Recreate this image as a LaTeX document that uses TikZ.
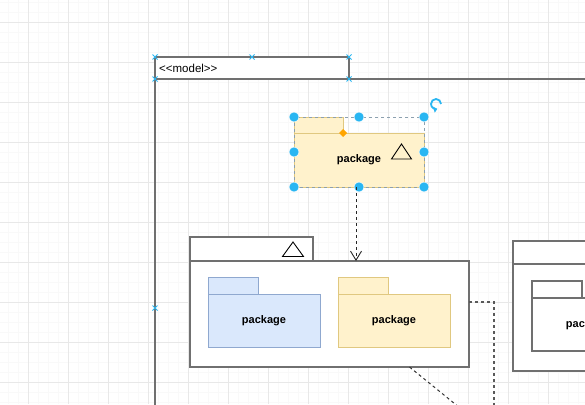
\documentclass[tikz,border=0pt]{standalone}
\usepackage{fontspec}
\setmainfont{Liberation Sans}
\usetikzlibrary{arrows.meta}
\definecolor{gridmaj}{RGB}{232,232,232}
\definecolor{gridmin}{RGB}{249,249,249}
\definecolor{framec}{RGB}{112,112,112}
\definecolor{yfill}{HTML}{FFF2CC}
\definecolor{ystroke}{HTML}{E0C880}
\definecolor{bfill}{HTML}{DAE8FC}
\definecolor{bstroke}{HTML}{8FA8CF}
\definecolor{handlec}{RGB}{41,182,242}
\definecolor{orangeh}{HTML}{FFA500}
\definecolor{selc}{RGB}{140,160,175}
\begin{document}
\begin{tikzpicture}[x=1pt,y=-1pt,
  box/.style={draw=framec, line width=1.5pt, fill=white, anchor=north west, inner sep=0pt, outer sep=0pt},
  pkg/.style={anchor=north west, inner sep=0pt, outer sep=0pt, line width=1pt},
  yellowpkg/.style={pkg, fill=yfill, draw=ystroke},
  bluepkg/.style={pkg, fill=bfill, draw=bstroke},
  ptext/.style={font=\bfseries\fontsize{11}{13}\selectfont},
  handle/.style={circle, fill=handlec, draw=white, line width=0.4pt, minimum size=10pt, inner sep=0pt},
  xhandle/.style={draw=handlec, line width=1pt},
  dasharrow/.style={draw=black!85, line width=0.9pt, dash pattern=on 3pt off 3pt, -{Straight Barb[length=9pt,width=11pt,line width=0.9pt]}},
  dotline/.style={draw=black!65, line width=1.8pt, dash pattern=on 3pt off 3pt},
  dashline/.style={draw=black!80, line width=1pt, dash pattern=on 3pt off 3pt}]
\useasboundingbox (0,0) rectangle (585,404);
\clip (0,0) rectangle (585,404);
\fill[white] (0,0) rectangle (585,404);
% grid
\foreach \x in {8,18,...,588} \draw[gridmin, line width=0.8pt] (\x,0) -- (\x,404);
\foreach \y in {2,12,...,402} \draw[gridmin, line width=0.8pt] (0,\y) -- (585,\y);
\foreach \x in {28,68,...,588} \draw[gridmaj, line width=0.8pt] (\x,0) -- (\x,404);
\foreach \y in {22,62,...,402} \draw[gridmaj, line width=0.8pt] (0,\y) -- (585,\y);

% model frame
\draw[framec, line width=1.5pt] (155,79) rectangle (800,600);
\node[box, minimum width=194pt, minimum height=22pt] (modeltab) at (155,57) {};
\node[anchor=west, inner sep=0pt, font=\fontsize{11.5}{13}\selectfont] (modellabel) at ([xshift=4pt]modeltab.west) {<\kern0pt<model>\kern0pt>};
\coordinate (modelleft) at (155,308);
\foreach \c in {modeltab.north west, modeltab.north, modeltab.north east, modeltab.south west, modeltab.south east, modelleft}
  \draw[xhandle] ([shift={(-2.5,-2.5)}]\c) -- ([shift={(2.5,2.5)}]\c) ([shift={(-2.5,2.5)}]\c) -- ([shift={(2.5,-2.5)}]\c);

% middle frame
\node[box, minimum width=123pt, minimum height=24pt] (mtab) at (190,237) {};
\node[box, minimum width=279pt, minimum height=106pt] (mbody) at (190,261) {};
\draw[black, line width=0.9pt, line join=miter] (293,242) -- (303.5,256.5) -- (282.5,256.5) -- cycle;
\node[bluepkg, minimum width=50pt, minimum height=17pt] (btab) at (208,277) {};
\node[bluepkg, minimum width=112pt, minimum height=53pt, ptext] (bbody) at (208,294) {package};
\node[yellowpkg, minimum width=50pt, minimum height=17pt] (ytab) at (338,277) {};
\node[yellowpkg, minimum width=112pt, minimum height=53pt, ptext] (ybody) at (338,294) {package};

% right frame
\node[box, minimum width=123pt, minimum height=23pt] (rtab) at (513,241) {};
\node[box, minimum width=279pt, minimum height=107pt] (rbody) at (513,264) {};
\node[box, minimum width=50pt, minimum height=17pt] (itab) at (532,281) {};
\node[box, minimum width=112pt, minimum height=53pt, ptext] (ibody) at (532,298) {package};

% top (selected) package
\node[yellowpkg, minimum width=49pt, minimum height=16pt] (ttab) at (294,117) {};
\node[yellowpkg, minimum width=130pt, minimum height=54pt, ptext] (tbody) at (294,133) {\raisebox{2pt}{package}};
\draw[black, line width=0.9pt, line join=miter] (401.5,144) -- (411.5,159) -- (391.5,159) -- cycle;
\node[anchor=north west, draw=selc, dash pattern=on 3pt off 3pt, line width=0.8pt, minimum width=130pt, minimum height=70pt, inner sep=0pt, outer sep=0pt] (sel) at (294,117) {};
\fill[orangeh] ([yshift=4pt]ttab.south east) -- ([xshift=4pt]ttab.south east) -- ([yshift=-4pt]ttab.south east) -- ([xshift=-4pt]ttab.south east) -- cycle;
\foreach \c in {north west, north, north east, west, east, south west, south, south east}
  \node[handle] at (sel.\c) {};
\coordinate (rot) at (436,104);
\draw[handlec, line width=1.8pt, -{Triangle[length=3.5pt,width=6pt]}] ([shift={(5,0)}]rot) arc[start angle=0, end angle=285, radius=5pt];

% connectors
\draw[dasharrow] ([xshift=-3pt]tbody.south) -- ([xshift=-3pt]tbody.south |- mbody.north);
\coordinate (c1) at (494,410);
\draw[dotline] ([yshift=12pt]mbody.east) -| (c1);
\coordinate (c2) at (460,408);
\draw[dashline] ([xshift=80pt]mbody.south) -- (c2);
\end{tikzpicture}
\end{document}
